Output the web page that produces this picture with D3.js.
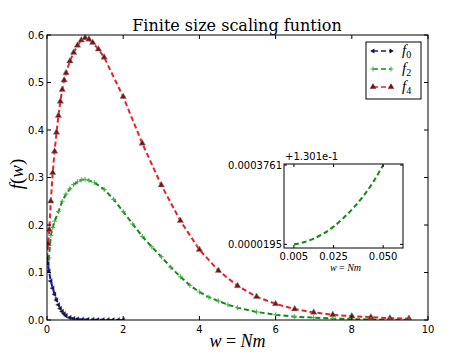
<!DOCTYPE html>
<html><head><meta charset="utf-8">
<script src="https://cdn.jsdelivr.net/npm/d3@7"></script>
<style>
html,body{margin:0;padding:0;background:#fff;}
svg{display:block;}
</style></head>
<body>
<svg id="chart" width="474" height="355"></svg>
<script>
// ---- data ----
const titleText = "Finite size scaling funtion";
const xTicks = [0, 2, 4, 6, 8, 10];
const yTicks = [0.0, 0.1, 0.2, 0.3, 0.4, 0.5, 0.6];

const f0W = [0, 0.025, 0.05, 0.1, 0.15, 0.2, 0.25, 0.3, 0.35, 0.4, 0.45, 0.5, 0.6, 0.7, 0.8, 0.93, 1.07, 1.2, 1.33, 1.47, 1.6, 1.73, 1.87, 2.0];
const f0V = [0.130, 0.118, 0.103, 0.082, 0.067, 0.054, 0.042, 0.032, 0.024, 0.018, 0.013, 0.009, 0.005, 0.003, 0.002, 0.0013, 0.0009, 0.0006, 0.0004, 0.0003, 0.0002, 0.00015, 0.0001, 0.0001];

const f2W = [0, 0.05, 0.1, 0.15, 0.2, 0.3, 0.4, 0.5, 0.6, 0.7, 0.8, 0.9, 1.0, 1.1, 1.25, 1.5, 1.75, 2.0, 2.25, 2.5, 2.75, 3.0, 3.25, 3.5, 3.75, 4.0, 4.25, 4.5, 4.75, 5.0, 5.5, 6.0, 6.5, 7.0, 7.5, 8.0, 8.5, 9.0, 9.5];
const f2V = [0.1301, 0.1305, 0.178, 0.195, 0.208, 0.228, 0.250, 0.265, 0.276, 0.285, 0.291, 0.295, 0.296, 0.294, 0.289, 0.275, 0.254, 0.228, 0.202, 0.176, 0.154, 0.133, 0.111, 0.091, 0.073, 0.059, 0.048, 0.040, 0.032, 0.026, 0.017, 0.011, 0.007, 0.005, 0.003, 0.002, 0.001, 0.0007, 0.0004];

const f4W = [0, 0.03, 0.06, 0.1, 0.15, 0.2, 0.25, 0.3, 0.35, 0.4, 0.45, 0.5, 0.6, 0.7, 0.8, 0.9, 1.0, 1.1, 1.2, 1.35, 1.5, 2.0, 2.5, 3.0, 3.5, 4.0, 4.5, 5.0, 5.5, 6.0, 6.5, 7.0, 7.5, 8.0, 8.5, 9.0, 9.5];
const f4V = [0.13, 0.16, 0.19, 0.25, 0.31, 0.355, 0.395, 0.43, 0.46, 0.485, 0.505, 0.52, 0.545, 0.563, 0.578, 0.589, 0.594, 0.591, 0.584, 0.57, 0.553, 0.47, 0.372, 0.284, 0.209, 0.148, 0.104, 0.072, 0.049, 0.034, 0.023, 0.016, 0.011, 0.008, 0.006, 0.004, 0.003];

// inset (f2 near zero, offset by +1.301e-1)
const insetOffsetText = "+1.301e-1";
const insetW = [0.005, 0.01, 0.015, 0.02, 0.025, 0.03, 0.035, 0.04, 0.045, 0.05];
const insetV = [0.0000195, 0.0000290, 0.0000455, 0.0000680, 0.0000990, 0.000138, 0.000183, 0.000236, 0.000300, 0.0003761];
const insetXTicks = [0.005, 0.025, 0.050];
const insetXTickLabels = ["0.005", "0.025", "0.050"];
const insetYTicks = [0.0000195, 0.0003761];
const insetYTickLabels = ["0.0000195", "0.0003761"];

const seriesNames = ["0", "2", "4"];

// ---- drawing ----
const svg = d3.select("#chart");
const M = {left: 47, right: 428, top: 35, bottom: 320};
const x = d3.scaleLinear().domain([0, 10]).range([M.left, M.right]);
const y = d3.scaleLinear().domain([0, 0.6]).range([M.bottom, M.top]);

const sans = "'DejaVu Sans', sans-serif";
const serif = "'Liberation Serif', 'DejaVu Serif', serif";
const titleFont = "'DejaVu Serif', serif";

const blue = "#1010d0", green = "#138a13", red = "#e8202a";

const clipId = "clipMain";
svg.append("clipPath").attr("id", clipId).append("rect")
  .attr("x", M.left).attr("y", M.top - 6).attr("width", M.right - M.left).attr("height", M.bottom - M.top + 6);

const line = d3.line().x(d => x(d[0])).y(d => y(d[1]));
const plotG = svg.append("g").attr("clip-path", `url(#${clipId})`);

function series(W, V) { return W.map((w, i) => [w, V[i]]); }
const s0 = series(f0W, f0V), s2 = series(f2W, f2V), s4 = series(f4W, f4V);

const dash = "5,3";
plotG.append("path").datum(s0).attr("d", line).attr("fill", "none")
  .attr("stroke", blue).attr("stroke-width", 2).attr("stroke-dasharray", dash);
plotG.append("path").datum(s2).attr("d", line).attr("fill", "none")
  .attr("stroke", green).attr("stroke-width", 2).attr("stroke-dasharray", dash);
plotG.append("path").datum(s4).attr("d", line).attr("fill", "none")
  .attr("stroke", red).attr("stroke-width", 2).attr("stroke-dasharray", dash);

// markers
const tri = d3.symbol().type(d3.symbolTriangle).size(18);
plotG.selectAll(".m4").data(s4).join("path")
  .attr("transform", d => `translate(${x(d[0])},${y(d[1])})`)
  .attr("d", tri).attr("fill", "#7a1414").attr("stroke", "#8a8a8a").attr("stroke-width", 0.5);
plotG.selectAll(".m2").data(s2).join("path")
  .attr("transform", d => `translate(${x(d[0])},${y(d[1])})`)
  .attr("d", "M-2.5,0H2.5M0,-2.5V2.5").attr("stroke", "#4caf4c").attr("stroke-width", 1);
const tri0 = d3.symbol().type(d3.symbolTriangle).size(10);
plotG.selectAll(".m0").data(s0).join("path")
  .attr("transform", d => `translate(${x(d[0])},${y(d[1])}) rotate(-90)`)
  .attr("d", tri0).attr("fill", "#10104a").attr("stroke", "#555").attr("stroke-width", 0.4);

// frame
svg.append("rect").attr("x", M.left).attr("y", M.top).attr("width", M.right - M.left).attr("height", M.bottom - M.top)
  .attr("fill", "none").attr("stroke", "#000").attr("stroke-width", 1);

// ticks (inward, all sides)
const tl = 4;
xTicks.forEach(t => {
  svg.append("line").attr("x1", x(t)).attr("x2", x(t)).attr("y1", M.bottom).attr("y2", M.bottom - tl).attr("stroke", "#000");
  svg.append("line").attr("x1", x(t)).attr("x2", x(t)).attr("y1", M.top).attr("y2", M.top + tl).attr("stroke", "#000");
  svg.append("text").attr("x", x(t)).attr("y", M.bottom + 13).attr("text-anchor", "middle")
    .attr("font-family", sans).attr("font-size", 10).text(d3.format("d")(t));
});
yTicks.forEach(t => {
  svg.append("line").attr("x1", M.left).attr("x2", M.left + tl).attr("y1", y(t)).attr("y2", y(t)).attr("stroke", "#000");
  svg.append("line").attr("x1", M.right).attr("x2", M.right - tl).attr("y1", y(t)).attr("y2", y(t)).attr("stroke", "#000");
  svg.append("text").attr("x", M.left - 3).attr("y", y(t) + 3.5).attr("text-anchor", "end")
    .attr("font-family", sans).attr("font-size", 10).text(d3.format(".1f")(t));
});

// title
svg.append("text").attr("x", 237).attr("y", 31).attr("text-anchor", "middle")
  .attr("font-family", titleFont).attr("font-size", 16).text(titleText);

// axis labels
const xl = svg.append("text").attr("x", (M.left + M.right) / 2).attr("y", 347).attr("text-anchor", "middle")
  .attr("font-family", serif).attr("font-size", 18).attr("font-style", "italic");
xl.append("tspan").text("w");
xl.append("tspan").attr("font-style", "normal").text(" = ");
xl.append("tspan").text("Nm");

const yl = svg.append("text").attr("transform", "translate(23,174) rotate(-90)").attr("text-anchor", "middle")
  .attr("font-family", serif).attr("font-size", 19);
yl.append("tspan").attr("font-style", "italic").text("f");
yl.append("tspan").text("(");
yl.append("tspan").attr("font-style", "italic").text("w");
yl.append("tspan").text(")");

// legend
const L = {x: 366, y: 42, w: 55, h: 57};
svg.append("rect").attr("x", L.x).attr("y", L.y).attr("width", L.w).attr("height", L.h)
  .attr("fill", "#fff").attr("stroke", "#000").attr("stroke-width", 1);
const legItems = [
  {n: seriesNames[0], c: blue, y: 51},
  {n: seriesNames[1], c: green, y: 69},
  {n: seriesNames[2], c: red, y: 87}
];
legItems.forEach((it, i) => {
  svg.append("line").attr("x1", 373).attr("x2", 391).attr("y1", it.y).attr("y2", it.y)
    .attr("stroke", it.c).attr("stroke-width", 1.5).attr("stroke-dasharray", "5,3");
  [373, 391].forEach(px => {
    const g = svg.append("g").attr("transform", `translate(${px},${it.y})`);
    if (i === 0) g.append("path").attr("d", tri0).attr("transform", px === 373 ? "rotate(-90)" : "rotate(90)").attr("fill", "#10104a");
    if (i === 1) g.append("path").attr("d", "M-2.5,0H2.5M0,-2.5V2.5").attr("stroke", "#4caf4c").attr("stroke-width", 1);
    if (i === 2) g.append("path").attr("d", tri).attr("fill", "#7a1414");
  });
  const t = svg.append("text").attr("x", 402).attr("y", it.y + 4).attr("font-family", serif).attr("font-size", 15);
  t.append("tspan").attr("font-style", "italic").text("f");
  t.append("tspan").attr("font-size", 10).attr("dy", 3).text(it.n);
});

// inset
const I = {left: 284, right: 403, top: 164, bottom: 248};
const ix = d3.scaleLinear().domain([0, 0.06]).range([I.left, I.right]);
const iy = d3.scaleLinear().domain([0.000003, 0.0003806]).range([I.bottom, I.top]);
svg.append("rect").attr("x", I.left).attr("y", I.top).attr("width", I.right - I.left).attr("height", I.bottom - I.top)
  .attr("fill", "#fff").attr("stroke", "none");
svg.append("clipPath").attr("id", "clipInset").append("rect")
  .attr("x", I.left).attr("y", I.top).attr("width", I.right - I.left).attr("height", I.bottom - I.top);
const iline = d3.line().curve(d3.curveMonotoneX).x(d => ix(d[0])).y(d => iy(d[1]));
svg.append("g").attr("clip-path", "url(#clipInset)").append("path")
  .datum(series(insetW, insetV)).attr("d", iline).attr("fill", "none")
  .attr("stroke", green).attr("stroke-width", 2).attr("stroke-dasharray", dash);
svg.append("rect").attr("x", I.left).attr("y", I.top).attr("width", I.right - I.left).attr("height", I.bottom - I.top)
  .attr("fill", "none").attr("stroke", "#000").attr("stroke-width", 1);
insetXTicks.forEach((t, i) => {
  svg.append("line").attr("x1", ix(t)).attr("x2", ix(t)).attr("y1", I.bottom).attr("y2", I.bottom - 3).attr("stroke", "#000");
  svg.append("line").attr("x1", ix(t)).attr("x2", ix(t)).attr("y1", I.top).attr("y2", I.top + 3).attr("stroke", "#000");
  svg.append("text").attr("x", ix(t)).attr("y", I.bottom + 12).attr("text-anchor", "middle")
    .attr("font-family", sans).attr("font-size", 10).text(insetXTickLabels[i]);
});
insetYTicks.forEach((t, i) => {
  svg.append("line").attr("x1", I.left).attr("x2", I.left + 3).attr("y1", iy(t)).attr("y2", iy(t)).attr("stroke", "#000");
  svg.append("line").attr("x1", I.right).attr("x2", I.right - 3).attr("y1", iy(t)).attr("y2", iy(t)).attr("stroke", "#000");
  svg.append("text").attr("x", I.left - 2).attr("y", iy(t) + 3.5).attr("text-anchor", "end")
    .attr("font-family", sans).attr("font-size", 10).text(insetYTickLabels[i]);
});
svg.append("text").attr("x", I.left + 1).attr("y", I.top - 4).attr("font-family", sans).attr("font-size", 10).text(insetOffsetText);
const ixl = svg.append("text").attr("x", (I.left + I.right) / 2 + 2).attr("y", 271).attr("text-anchor", "middle")
  .attr("font-family", serif).attr("font-size", 10);
ixl.append("tspan").attr("font-style", "italic").text("w");
ixl.append("tspan").text(" = ");
ixl.append("tspan").attr("font-style", "italic").text("Nm");
</script>
</body></html>
